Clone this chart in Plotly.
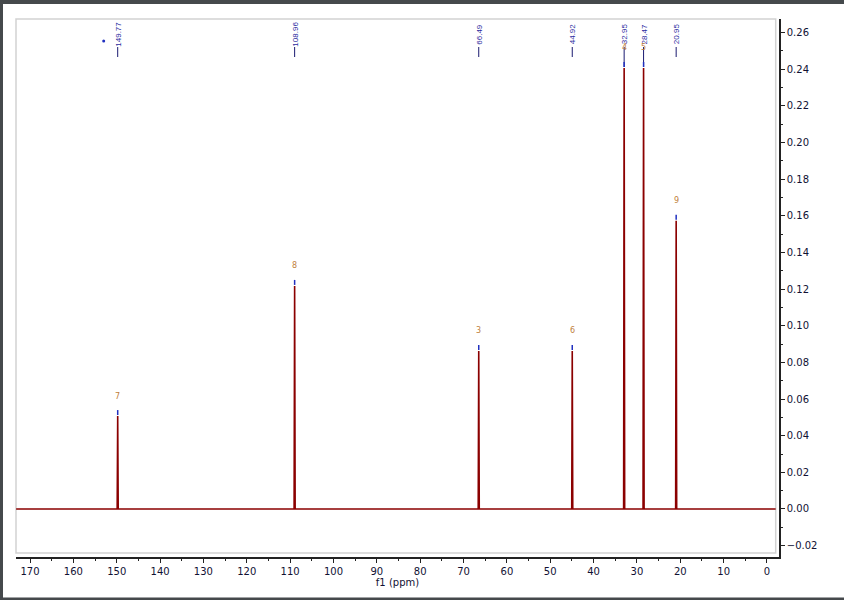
import plotly.graph_objects as go

# ---- data ----
peak_ppm = [149.77, 108.96, 66.49, 44.92, 32.95, 28.47, 20.95]
peak_height = [0.0507, 0.1217, 0.0862, 0.0862, 0.2406, 0.2406, 0.1573]
peak_label = ["149.77", "108.96", "66.49", "44.92", "32.95", "28.47", "20.95"]
peak_number = ["7", "8", "3", "6", "4", "5", "9"]
spec_start = 173.2
spec_end = -2.0

# ---- geometry (pixels) ----
W, H = 844, 600
L, R, T, B = 16, 779, 19, 557  # plot area in pixels
X_RANGE = [173.23, -2.77]
Y_RANGE = [-0.02619, 0.26732]
PX_PER_Y = (B - T) / (Y_RANGE[1] - Y_RANGE[0])


def px(xp):
    return (xp - L) / (R - L)


def py(yp):
    return (B - yp) / (B - T)


# build the spectrum trace from the peak list (narrow sticks on a flat baseline)
hw = 0.12
xs, ys = [spec_start], [0.0]
for p, h in sorted(zip(peak_ppm, peak_height), key=lambda t: -t[0]):
    xs += [p + hw, p, p - hw]
    ys += [0.0, h, 0.0]
xs.append(spec_end)
ys.append(0.0)

fig = go.Figure()
fig.add_trace(go.Scatter(x=xs, y=ys, mode="lines",
                         line=dict(color="#8b0000", width=1.6),
                         hoverinfo="skip", showlegend=False))
# small stray dot near the first label
fig.add_trace(go.Scatter(x=[153.0], y=[Y_RANGE[0] + (B - 41) / PX_PER_Y],
                         mode="markers", marker=dict(color="#2030c0", size=3),
                         hoverinfo="skip", showlegend=False))

shapes = []
annotations = []

# grey inner frame
shapes.append(dict(type="rect", xref="paper", yref="paper",
                   x0=0, x1=px(775.7), y0=py(553), y1=1,
                   line=dict(color="#d2d2d2", width=1.5), layer="below"))

label_color = "#2a2aa0"
for p, h, lab, num in zip(peak_ppm, peak_height, peak_label, peak_number):
    top_px = B - (h - Y_RANGE[0]) * PX_PER_Y
    # ppm label (rotated)
    annotations.append(dict(x=p, xref="x", y=py(34), yref="paper",
                            text=lab, textangle=-90, showarrow=False,
                            xanchor="center", yanchor="middle",
                            font=dict(family="Liberation Sans", size=8,
                                      color=label_color)))
    # leader line
    y_end = 57 if top_px > 70 else top_px - 1
    shapes.append(dict(type="line", xref="x", yref="paper",
                       x0=p, x1=p, y0=py(47), y1=py(y_end),
                       line=dict(color="#1a1a70", width=1)))
    # blue peak marker
    shapes.append(dict(type="line", xref="x", yref="y",
                       x0=p, x1=p, y0=h + 1 / PX_PER_Y, y1=h + 6 / PX_PER_Y,
                       line=dict(color="#2030c0", width=1.5)))
    # peak number
    annotations.append(dict(x=p, xref="x", y=h + 20 / PX_PER_Y, yref="y",
                            text=num, showarrow=False,
                            xanchor="center", yanchor="middle",
                            font=dict(family="DejaVu Sans", size=8,
                                      color="#c0803c")))

# dark window frame
dark = "#45494c"
shapes.append(dict(type="rect", xref="paper", yref="paper",
                   x0=px(-5), x1=px(W + 5), y0=py(4), y1=py(-5),
                   fillcolor=dark, line=dict(width=0)))
shapes.append(dict(type="rect", xref="paper", yref="paper",
                   x0=px(-5), x1=px(3), y0=py(H + 5), y1=py(-5),
                   fillcolor=dark, line=dict(width=0)))
shapes.append(dict(type="rect", xref="paper", yref="paper",
                   x0=px(-5), x1=px(W + 5), y0=py(H + 5), y1=py(597.5),
                   fillcolor=dark, line=dict(width=0)))

tick_font = dict(family="DejaVu Sans", size=10, color="#111133")
fig.update_layout(
    width=W, height=H,
    margin=dict(l=L, r=W - R, t=T, b=H - B),
    paper_bgcolor="white", plot_bgcolor="white",
    shapes=shapes, annotations=annotations,
    xaxis=dict(range=X_RANGE, showgrid=False, zeroline=False,
               showline=True, linecolor="#222222", linewidth=1.5,
               ticks="outside", ticklen=4, tickcolor="#222222",
               tick0=0, dtick=10, tickfont=tick_font,
               minor=dict(ticks="outside", ticklen=2, dtick=5, tick0=0,
                          tickcolor="#222222"),
               title=dict(text="f1 (ppm)", font=tick_font, standoff=2)),
    yaxis=dict(range=Y_RANGE, side="right", showgrid=False, zeroline=False,
               showline=True, linecolor="#222222", linewidth=1.5,
               ticks="outside", ticklen=4, tickcolor="#222222",
               tick0=0, dtick=0.02, tickformat=".2f", tickfont=tick_font,
               minor=dict(ticks="outside", ticklen=2, dtick=0.01, tick0=0,
                          tickcolor="#222222")),
)

fig.write_html("out.html",
               config={"displayModeBar": False},
               post_script="document.body.style.margin='0';"
                           "document.body.style.overflow='hidden';")
